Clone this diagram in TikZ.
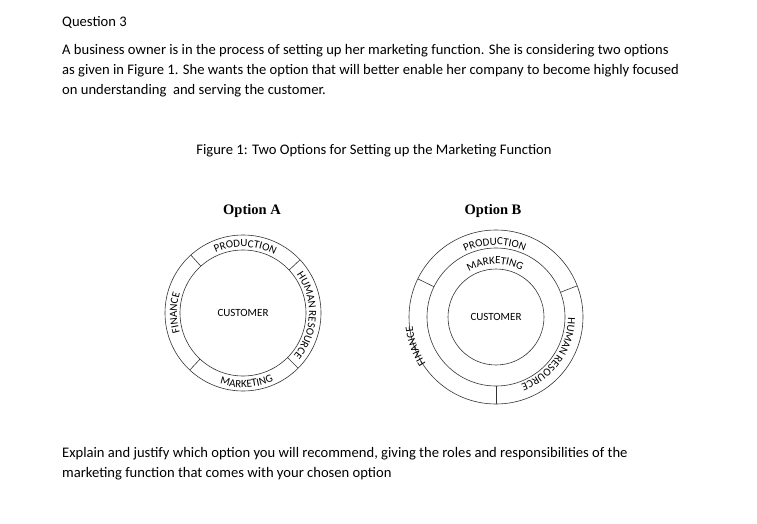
\documentclass[tikz,border=0pt]{standalone}
\usepackage{fontspec}
\setmainfont{Carlito}
\newfontfamily\tms{Liberation Serif}
\usetikzlibrary{decorations.text}
\tikzset{
  body/.style={anchor=base west,inner sep=0pt,font=\fontsize{14.6}{16}\selectfont},
  ring/.style={line width=0.6pt,draw=black!80},
  ttl/.style={anchor=base,inner sep=0pt,font=\tms\bfseries\fontsize{14.5}{16}\selectfont},
  lbl/.style={decorate,decoration={text along path,text align=center,text={|\fontsize{11}{11}\selectfont|#1}}}
}
\begin{document}
\begin{tikzpicture}[x=1pt,y=1pt]
\useasboundingbox (0,0) rectangle (757,523);
\node[body] (q) at (62,496) {Question 3};
\node[body] (l1) at (62,468) {A business owner is in the process of setting up her marketing function. She is considering two options};
\node[body] (l2) at (62,448) {as given in Figure 1. She wants the option that will better enable her company to become highly focused};
\node[body] (l3) at (62,428) {on understanding\ \ and serving the customer.};
\node[body,anchor=base] (cap) at (374,368) {Figure 1: Two Options for Setting up the Marketing Function};
\node[body] (e1) at (62,66) {Explain and justify which option you will recommend, giving the roles and responsibilities of the};
\node[body] (e2) at (62,46) {marketing function that comes with your chosen option};
% Option A
\coordinate (A) at (243,210);
\node[ttl] (ta) at (252,309) {Option A};
\draw[ring] (A) circle[radius=78];
\draw[ring] (A) circle[radius=63];
\foreach \a in {132,43,-133,-45}{\draw[ring] (A) ++(\a:63) -- ++(\a:15);}
\node[font=\fontsize{11}{11}\selectfont] (ca) at (A) {CUSTOMER};
\path[lbl=PRODUCTION] (A) ++(128:66) arc[start angle=128,end angle=48,radius=66];
\path[lbl=FINANCE] (A) ++(225:66) arc[start angle=225,end angle=135,radius=66];
\path[lbl=HUMAN RESOURCE] (A) ++(48:66) arc[start angle=48,end angle=-52,radius=66];
\path[lbl=MARKETING] (A) ++(225:74.5) arc[start angle=225,end angle=321,radius=74.5];
% Option B
\coordinate (B) at (496,206);
\node[ttl] (tb) at (493,309) {Option B};
\draw[ring] (B) circle[radius=87];
\draw[ring] (B) circle[radius=69];
\draw[ring] (B) circle[radius=48];
\foreach \a in {154,21,-90}{\draw[ring] (B) ++(\a:69) -- ++(\a:18);}
\node[font=\fontsize{11}{11}\selectfont] (cb) at (B) {CUSTOMER};
\path[lbl=PRODUCTION] (B) ++(140:72) arc[start angle=140,end angle=42,radius=72];
\path[lbl=MARKETING] (B) ++(138:53) arc[start angle=138,end angle=44,radius=53];
\begin{scope}[shift={(B)},xscale=-1]
\path[lbl=FINANCE] (-62:84) arc[start angle=-62,end angle=22,radius=84];
\end{scope}
\path[lbl=HUMAN RESOURCE] (B) ++(18:72) arc[start angle=18,end angle=-88,radius=72];
\end{tikzpicture}
\end{document}
